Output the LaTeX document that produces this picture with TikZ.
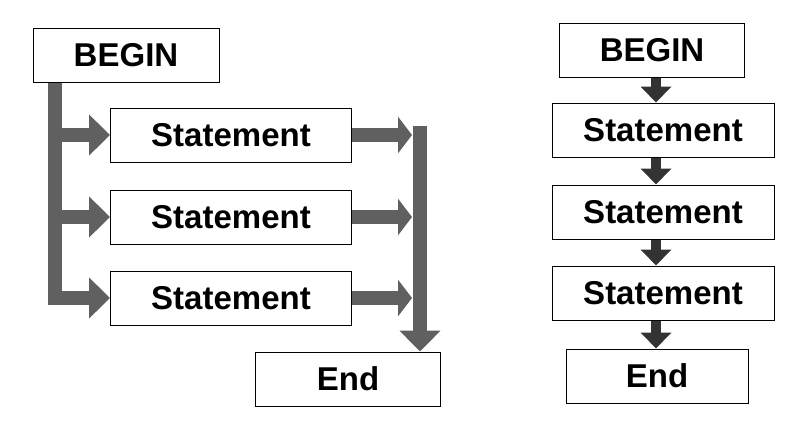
\documentclass[tikz,border=0pt]{standalone}
\usepackage{fontspec}
\setmainfont{Liberation Sans}
\usetikzlibrary{arrows.meta}
\begin{document}
\begin{tikzpicture}[x=1pt,y=-1pt,
  box/.style={draw,line width=1pt,minimum height=54pt,font=\bfseries\fontsize{33}{36}\selectfont,inner sep=0pt},
  big/.style={line width=14pt,color=gray!75!black,-{Triangle[width=40pt,length=21pt]}},
  thin/.style={line width=14pt,color=gray!75!black,-{Triangle[width=36pt,length=14pt]}},
  small/.style={line width=10pt,color=black!80,-{Triangle[width=30pt,length=16pt]}}]
\useasboundingbox (0,0) rectangle (805,432);
% left
\node[box,minimum width=186pt] (b1) at (126,55) {BEGIN};
\node[box,minimum width=241pt] (s1) at (231,135) {Statement};
\node[box,minimum width=241pt] (s2) at (231,217) {Statement};
\node[box,minimum width=241pt] (s3) at (231,298) {Statement};
\node[box,minimum width=185pt] (e1) at (348,379) {End};
\coordinate (t0) at (55,82.5);
\coordinate (vt) at (420,126);
\coordinate (a1) at (412,135);
\coordinate (a2) at (412,217);
\coordinate (a3) at (412,298);
\draw[big,line join=miter] (t0) |- (s3.west);
\draw[big] (t0 |- s1.west) -- (s1.west);
\draw[big] (t0 |- s2.west) -- (s2.west);
\draw[thin] (s1.east) -- (a1);
\draw[thin] (s2.east) -- (a2);
\draw[thin] (s3.east) -- (a3);
\draw[big] (vt) -- (e1.north -| vt);
% right
\node[box,minimum width=185pt] (b2) at (652,50) {BEGIN};
\node[box,minimum width=222pt] (r1) at (663,130) {Statement};
\node[box,minimum width=222pt] (r2) at (663,212) {Statement};
\node[box,minimum width=222pt] (r3) at (663,293) {Statement};
\node[box,minimum width=182pt] (e2) at (657,376) {End};
\draw[small] (b2.south -| 656,0) -- (r1.north -| 656,0);
\draw[small] (r1.south -| 656,0) -- (r2.north -| 656,0);
\draw[small] (r2.south -| 656,0) -- (r3.north -| 656,0);
\draw[small] (r3.south -| 656,0) -- (e2.north -| 656,0);
\end{tikzpicture}
\end{document}
